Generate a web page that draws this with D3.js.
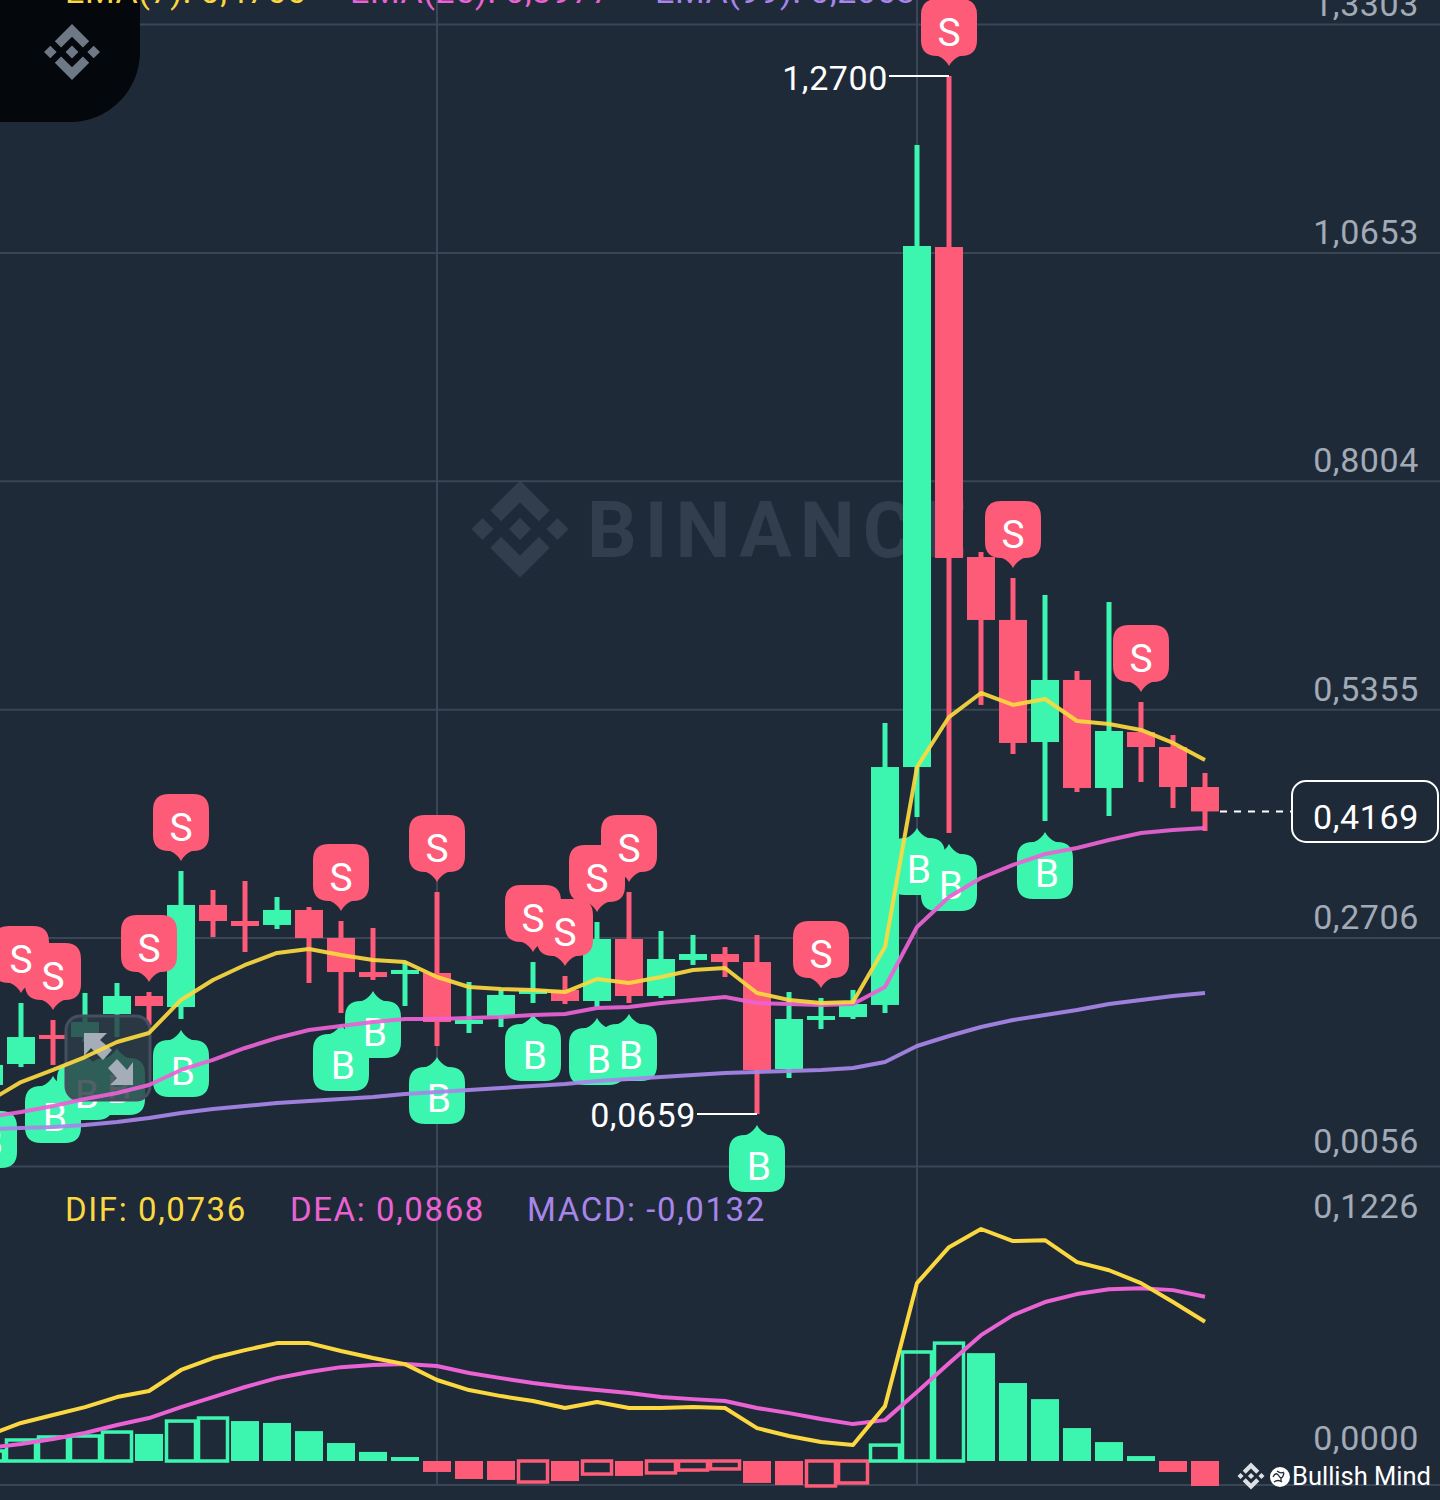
<!DOCTYPE html>
<html>
<head>
<meta charset="utf-8">
<script src="https://cdn.jsdelivr.net/npm/d3@7"></script>
<style>
html, body { margin: 0; padding: 0; background: #1f2a39; }
svg { display: block; }
text { font-family: Roboto, sans-serif; }
</style>
</head>
<body>
<svg id="chart" width="1440" height="1500"></svg>
<script>
// candles, oldest first (first one is cut by the left edge)
var opens = [.0996,.1239,.1576,.1552,.1819,.2028,.1900,.3084,.2898,.2852,.3026,.2701,.2306,.2283,.2295,.1715,.1796,.2063,.2098,.1970,.2689,.2028,.2446,.2515,.2422,.1181,.1750,.1784,.1924,.4684,1.0716,.7120,.6390,.4974,.5694,.4441,.5090,.4916,.4452];
var closes = [.1228,.1552,.1529,.1726,.2028,.1912,.3084,.2898,.2840,.3026,.2701,.2306,.2248,.2330,.1726,.1750,.2040,.2098,.1970,.2689,.2028,.2457,.2515,.2422,.1170,.1761,.1796,.1935,.4684,1.0728,.7109,.6390,.4963,.5694,.4441,.5102,.4916,.4452,.4169];
var highs = [.1286,.1947,.1750,.2063,.2179,.2074,.3478,.3258,.3362,.3176,.3060,.2898,.2817,.2422,.3234,.2190,.2098,.2422,.2260,.2886,.3234,.2782,.2736,.2596,.2736,.2074,.2005,.2098,.5195,1.1900,1.2700,.7178,.6877,.6680,.5798,.6598,.5438,.5055,.4615];
var lows = [.0938,.1204,.1228,.1494,.1552,.1692,.1761,.2712,.2538,.2805,.2179,.1831,.2214,.1912,.1448,.1599,.1668,.1947,.1935,.1900,.1947,.2005,.2388,.2248,.0659,.1077,.1645,.1761,.1831,.4104,.3919,.5404,.4835,.4058,.4394,.4116,.4510,.4209,.3942];

var ema7 = [.0810,.1030,.1170,.1320,.1494,.1599,.1982,.2214,.2388,.2527,.2573,.2504,.2446,.2422,.2248,.2132,.2109,.2098,.2074,.2225,.2179,.2248,.2330,.2353,.2063,.1982,.1947,.1958,.2596,.4684,.5264,.5543,.5404,.5473,.5218,.5183,.5114,.4963,.4766];
var ema25 = [.0624,.0682,.0752,.0833,.0903,.0996,.1170,.1286,.1425,.1541,.1634,.1680,.1726,.1761,.1761,.1773,.1784,.1808,.1819,.1889,.1900,.1947,.1982,.2016,.1947,.1935,.1924,.1935,.2132,.2828,.3176,.3397,.3548,.3675,.3745,.3838,.3919,.3954,.3977];
var ema99 = [.0485,.0497,.0508,.0532,.0566,.0613,.0671,.0717,.0752,.0787,.0810,.0833,.0856,.0891,.0914,.0938,.0961,.0984,.1007,.1042,.1065,.1088,.1112,.1135,.1146,.1158,.1170,.1193,.1262,.1448,.1564,.1668,.1750,.1808,.1866,.1935,.1982,.2028,.2063];

var dif = [.0137,.0201,.0243,.0285,.0338,.0370,.0481,.0544,.0586,.0623,.0623,.0581,.0544,.0512,.0428,.0375,.0343,.0317,.0280,.0312,.0280,.0280,.0285,.0280,.0174,.0132,.0100,.0084,.0290,.0940,.1130,.1226,.1162,.1167,.1051,.1008,.0940,.0840,.0736];
var dea = [.0069,.0090,.0116,.0148,.0190,.0227,.0285,.0338,.0391,.0438,.0470,.0496,.0507,.0512,.0502,.0465,.0438,.0412,.0391,.0375,.0359,.0338,.0327,.0317,.0280,.0253,.0222,.0195,.0216,.0364,.0517,.0665,.0771,.0840,.0882,.0908,.0913,.0903,.0868];
var macd = [.0053,.0111,.0127,.0132,.0153,.0143,.0211,.0227,.0211,.0201,.0158,.0095,.0048,.0021,-.0058,-.0095,-.0100,-.0111,-.0106,-.0069,-.0079,-.0063,-.0048,-.0042,-.0116,-.0127,-.0132,-.0116,.0084,.0576,.0623,.0570,.0412,.0327,.0174,.0100,.0026,-.0058,-.0132];
// histogram bars drawn as outlines instead of filled
var macdHollow = [0,1,2,3,4,6,7,17,19,21,22,23,26,27,28,29,30];

var sellMarks = [1,2,5,6,11,14,17,18,19,20,26,30,32,36];
var buyMarks = [0,2,3,4,6,11,12,14,17,19,20,24,29,30,33];

var priceTicks = [1.3303,1.0653,.8004,.5355,.2706,.0056];
var macdTicks = [.1226,0];
var lastPrice = .4169;
var highIdx = 30, lowIdx = 24;
var emaLegend = ["EMA(7): 0,4766", "EMA(25): 0,3977", "EMA(99): 0,2063"];
var macdLegend = ["DIF: 0,0736", "DEA: 0,0868", "MACD: -0,0132"];

var GREEN = "#3cf6b0", RED = "#fd5b78", YELLOW = "#fbd83f", PINK = "#eb62d4", PURPLE = "#a885e8";
var GRID = "#3a4656", AXIS_TEXT = "#a2aab6";

var BNB = "m38.73 53.2 24.59-24.58 24.6 24.6 14.3-14.31L63.32 0 24.42 38.9zM0 63.31 14.3 49l14.31 14.31-14.31 14.3zM38.73 73.41 63.32 98l24.59-24.6 14.31 14.29-38.9 38.9-38.9-38.9zM98 63.31 112.3 49l14.31 14.3-14.31 14.32zM77.83 63.3 63.32 48.78 52.59 59.51l-1.24 1.23-2.54 2.54 14.51 14.53 14.51-14.5z";
var BUBBLE = "M0,0C-2,-4 -6,-8 -11,-10L-12,-10Q-28,-10 -28,-26L-28,-51Q-28,-67 -12,-67L12,-67Q28,-67 28,-51L28,-26Q28,-10 12,-10L11,-10C6,-8 2,-4 0,0Z";

var svg = d3.select("#chart");
var idx = d3.range(opens.length);

var x = d3.scaleLinear().domain([0, opens.length - 1]).range([-11, 1205]);
var y = d3.scaleLinear().domain([.0056, 1.3303]).range([1166, 24]);
var yMacd = d3.scaleLinear().domain([0, .1226]).range([1461, 1229]);

function comma(v) { return v.toFixed(4).replace(".", ","); }
function logo(g, cx, cy, size, color) {
    var k = size / 126.61;
    g.append("path").attr("d", BNB).attr("fill", color)
        .attr("transform", "translate(" + (cx - size / 2) + "," + (cy - size / 2) + ") scale(" + k + ")");
}

svg.append("rect").attr("width", 1440).attr("height", 1500).attr("fill", "#1f2a39");

// watermark
var wm = svg.append("g");
logo(wm, 520, 529, 97, "#323d4d");
wm.append("text").attr("x", 587).attr("y", 557).text("BINANCE")
    .attr("fill", "#323d4d").attr("font-size", 78).attr("font-weight", 700).attr("letter-spacing", 8);

// gridlines and right side labels
function yAxis(scale, ticks, labelShift) {
    return function(g) {
        g.call(d3.axisRight(scale).tickValues(ticks).tickFormat(comma).tickSize(-1440).tickPadding(0));
        g.select(".domain").remove();
        g.selectAll(".tick line").attr("stroke", GRID).attr("stroke-width", 2);
        g.selectAll(".tick text")
            .attr("x", -21).attr("dy", labelShift).attr("text-anchor", "end")
            .attr("fill", AXIS_TEXT).attr("font-size", 34).attr("letter-spacing", .6)
            .attr("font-family", "Roboto, sans-serif");
    };
}
var priceAxis = svg.append("g").attr("transform", "translate(1440,0)").call(yAxis(y, priceTicks, -9));
// lowest label sits a little higher on the app
priceAxis.selectAll(".tick text").filter(function(d) { return d == d3.min(priceTicks); }).attr("dy", -14);
svg.append("g").attr("transform", "translate(1440,0)").call(yAxis(yMacd, macdTicks, -12))
    .selectAll(".tick line").remove();

svg.append("line").attr("x1", 0).attr("x2", 1440).attr("y1", 1485).attr("y2", 1485).attr("stroke", GRID).attr("stroke-width", 2);
[14, 29].forEach(function(i) {
    svg.append("line").attr("x1", x(i)).attr("x2", x(i)).attr("y1", 0).attr("y2", 1485).attr("stroke", GRID).attr("stroke-width", 2);
});

// candles
var candle = svg.append("g").selectAll("g").data(idx).join("g")
    .attr("fill", function(i) { return closes[i] >= opens[i] ? GREEN : RED; });
candle.append("rect")
    .attr("x", function(i) { return x(i) - 2.5; }).attr("width", 5)
    .attr("y", function(i) { return y(highs[i]); })
    .attr("height", function(i) { return y(lows[i]) - y(highs[i]); });
candle.append("rect")
    .attr("x", function(i) { return x(i) - 14; }).attr("width", 28)
    .attr("y", function(i) { return y(Math.max(opens[i], closes[i])); })
    .attr("height", function(i) { return Math.max(4, Math.abs(y(opens[i]) - y(closes[i]))); });

// buy / sell bubbles, letters go over all of them
var marks = sellMarks.map(function(i) { return { i: i, side: "S" }; })
    .concat(buyMarks.map(function(i) { return { i: i, side: "B" }; }));
function markAt(d) {
    return d.side == "S"
        ? "translate(" + x(d.i) + "," + (y(highs[d.i]) - 10) + ")"
        : "translate(" + x(d.i) + "," + (y(lows[d.i]) + 11) + ")";
}
svg.append("g").selectAll("path").data(marks).join("path")
    .attr("d", BUBBLE)
    .attr("transform", function(d) { return markAt(d) + (d.side == "S" ? "" : " scale(1,-1)"); })
    .attr("fill", function(d) { return d.side == "S" ? RED : GREEN; });
svg.append("g").selectAll("text").data(marks).join("text")
    .attr("transform", markAt)
    .text(function(d) { return d.side; })
    .attr("text-anchor", "middle").attr("font-size", 39).attr("fill", "#fff")
    .attr("x", function(d) { return d.side == "S" ? 0 : 2; })
    .attr("y", function(d) { return d.side == "S" ? -20 : 55; });

// chart scale handle
var handle = svg.append("g");
handle.append("rect").attr("x", 66).attr("y", 1016).attr("width", 84).attr("height", 84).attr("rx", 14)
    .attr("fill", "#2c3c46").attr("fill-opacity", .82).attr("stroke", "#454f5f").attr("stroke-width", 3);
handle.append("path").attr("d", "M84,1033L107,1033L100,1040L112,1050L103,1060L91,1048L84,1056Z").attr("fill", "#a5adb9");
handle.append("path").attr("d", "M133,1085L110,1085L117,1078L108,1068L117,1059L127,1070L133,1062Z").attr("fill", "#a5adb9");

// EMA lines
var priceLine = d3.line().x(function(d, i) { return x(i); }).y(function(d) { return y(d); }).curve(d3.curveLinear);
[[ema99, PURPLE], [ema25, PINK], [ema7, YELLOW]].forEach(function(s) {
    svg.append("path").datum(s[0]).attr("d", priceLine)
        .attr("fill", "none").attr("stroke", s[1]).attr("stroke-width", 4)
        .attr("stroke-linejoin", "round").attr("stroke-opacity", .93);
});

// high and low callouts
svg.append("line").attr("x1", x(highIdx)).attr("x2", x(highIdx) - 60)
    .attr("y1", y(highs[highIdx])).attr("y2", y(highs[highIdx])).attr("stroke", "#fff").attr("stroke-width", 2);
svg.append("text").attr("x", x(highIdx) - 61).attr("y", y(highs[highIdx]) + 14).attr("text-anchor", "end")
    .attr("font-size", 34).attr("letter-spacing", .6).attr("fill", "#fff").text(comma(highs[highIdx]));
svg.append("line").attr("x1", x(lowIdx)).attr("x2", x(lowIdx) - 60)
    .attr("y1", y(lows[lowIdx])).attr("y2", y(lows[lowIdx])).attr("stroke", "#fff").attr("stroke-width", 2);
svg.append("text").attr("x", x(lowIdx) - 61).attr("y", y(lows[lowIdx]) + 13).attr("text-anchor", "end")
    .attr("font-size", 34).attr("letter-spacing", .6).attr("fill", "#fff").text(comma(lows[lowIdx]));

// last price tag
svg.append("line").attr("x1", 1220).attr("x2", 1292).attr("y1", y(lastPrice)).attr("y2", y(lastPrice))
    .attr("stroke", "#fff").attr("stroke-width", 2).attr("stroke-dasharray", "7,7");
svg.append("rect").attr("x", 1292).attr("y", 781).attr("width", 146).attr("height", 61).attr("rx", 14)
    .attr("fill", "#1f2a39").attr("stroke", "#fff").attr("stroke-width", 2);
svg.append("text").attr("x", 1366).attr("y", 829).attr("text-anchor", "middle")
    .attr("font-size", 34).attr("letter-spacing", .6).attr("fill", "#fff").text(comma(lastPrice));

// MACD histogram
svg.append("g").selectAll("rect").data(idx).join("rect")
    .each(function(i) {
        var hollow = macdHollow.indexOf(i) >= 0, color = macd[i] >= 0 ? GREEN : RED;
        var top = yMacd(Math.max(macd[i], 0)), h = Math.abs(yMacd(macd[i]) - yMacd(0));
        d3.select(this)
            .attr("x", x(i) - (hollow ? 14.5 : 14)).attr("width", hollow ? 29 : 28)
            .attr("y", top).attr("height", h)
            .attr("fill", hollow ? "none" : color)
            .attr("stroke", hollow ? color : "none").attr("stroke-width", 3.5);
    });

var macdLine = d3.line().x(function(d, i) { return x(i); }).y(function(d) { return yMacd(d); });
[[dea, PINK], [dif, YELLOW]].forEach(function(s) {
    svg.append("path").datum(s[0]).attr("d", macdLine)
        .attr("fill", "none").attr("stroke", s[1]).attr("stroke-width", 4).attr("stroke-linejoin", "round");
});

// top left tab
svg.append("path").attr("d", "M0,0H140V52A70,70 0 0 1 70,122H0Z").attr("fill", "#04070c");
logo(svg, 72, 52, 56, "#6f7986");

// legends
var legendColors = [YELLOW, PINK, PURPLE];
[65, 350, 655].forEach(function(px, i) {
    svg.append("text").attr("x", px).attr("y", 3).attr("font-size", 34).attr("letter-spacing", .6)
        .attr("fill", legendColors[i]).text(emaLegend[i]);
});
[65, 290, 527].forEach(function(px, i) {
    svg.append("text").attr("x", px).attr("y", 1221).attr("font-size", 33).attr("letter-spacing", 1.6)
        .attr("fill", legendColors[i]).text(macdLegend[i]);
});

// repost credit, bottom right
logo(svg, 1251, 1476, 27, "#dde1e6");
svg.append("circle").attr("cx", 1280).attr("cy", 1477).attr("r", 10).attr("fill", "#fff");
svg.append("path").attr("d", "M1273,1477q3,-6 6,-1t5,-3M1274,1482q4,-3 8,0M1277,1471q4,3 7,1M1281,1477v5")
    .attr("fill", "none").attr("stroke", "#1f2a39").attr("stroke-width", 1.3);
svg.append("text").attr("x", 1292).attr("y", 1485).attr("font-size", 25.5).attr("font-family", "'Noto Sans', sans-serif")
    .attr("fill", "#fff").text("Bullish Mind");
</script>
</body>
</html>
